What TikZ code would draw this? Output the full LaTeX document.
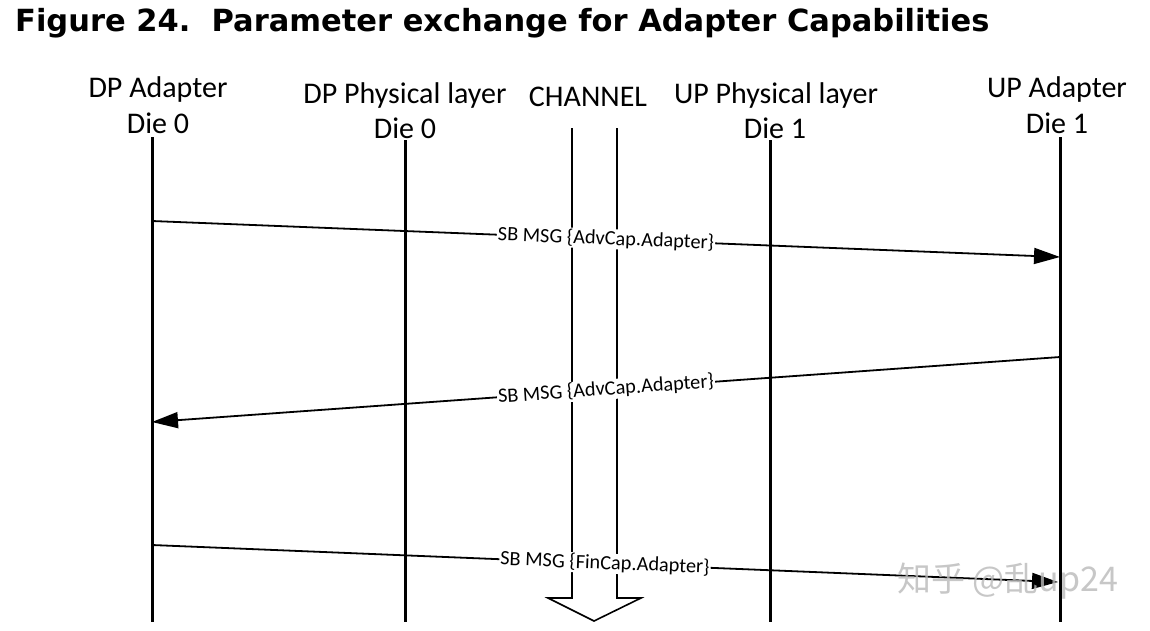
\documentclass[tikz,border=0pt]{standalone}
\usepackage{fontspec}
\setmainfont{Carlito}
\newfontfamily\titlefont{DejaVu Sans}
\newfontfamily\cjkfont{Noto Sans CJK SC}
\usetikzlibrary{arrows.meta}
\begin{document}
\begin{tikzpicture}[x=1pt,y=-1pt,
  hdr/.style={font=\fontsize{30}{36}\selectfont, inner sep=0pt, anchor=base},
  life/.style={line width=3pt},
  chan/.style={line width=1.6pt, line join=miter},
  msg/.style={line width=1.8pt, -{Triangle[length=26pt,width=16pt]}},
  lbl/.style={font=\fontsize{20.3}{24}\selectfont, fill=white, inner sep=1pt, sloped, midway}]
\useasboundingbox (0,0) rectangle (1150,630);
\node[anchor=base west, inner sep=0pt, font=\titlefont\bfseries\fontsize{30.5}{36}\selectfont] (title) at (15,31) {Figure 24.\ \ Parameter exchange for Adapter Capabilities};
% headers
\node[hdr] (h1a) at (158,97) {DP Adapter};
\node[hdr] (h1b) at (158,133) {Die 0};
\node[hdr] (h2a) at (405,103) {DP Physical layer};
\node[hdr] (h2b) at (405,138) {Die 0};
\node[hdr] (h3) at (588,106) {CHANNEL};
\node[hdr] (h4a) at (776,103) {UP Physical layer};
\node[hdr] (h4b) at (775,138) {Die 1};
\node[hdr] (h5a) at (1057,97) {UP Adapter};
\node[hdr] (h5b) at (1057,133) {Die 1};
% lifelines
\coordinate (l1t) at (152,137); \coordinate (l1b) at (152,622);
\coordinate (l2t) at (405,140); \coordinate (l2b) at (405,622);
\coordinate (l4t) at (770,140); \coordinate (l4b) at (770,622);
\coordinate (l5t) at (1060,137); \coordinate (l5b) at (1060,622);
\draw[life] (l1t) -- (l1b);
\draw[life] (l2t) -- (l2b);
\draw[life] (l4t) -- (l4b);
\draw[life] (l5t) -- (l5b);
% channel
\coordinate (cl) at (572,128); \coordinate (cr) at (617,128);
\coordinate (ctip) at (594,621);
\draw[chan] (cl) -- (572,598) -- (548,598) -- (ctip) -- (641,598) -- (617,598) -- (cr);
% messages
\coordinate (m1s) at (152,221); \coordinate (m1e) at (1060,257);
\coordinate (m2s) at (1060,357); \coordinate (m2e) at (152,422);
\coordinate (m3s) at (152,545); \coordinate (m3e) at (1058,582);
\draw[msg] (m1s) -- node[lbl] (t1) {SB MSG \{AdvCap.Adapter\}} (m1e);
\draw[msg] (m2s) -- node[lbl,allow upside down=false] (t2) {SB MSG \{AdvCap.Adapter\}} (m2e);
\draw[msg] (m3s) -- node[lbl] (t3) {SB MSG \{FinCap.Adapter\}} (m3e);
% watermark
\node[anchor=base west, inner sep=0pt, text=gray!55, opacity=0.8, font=\cjkfont\fontsize{34}{40}\selectfont] (wm) at (897,591) {知乎 @乱up24};
\end{tikzpicture}
\end{document}
